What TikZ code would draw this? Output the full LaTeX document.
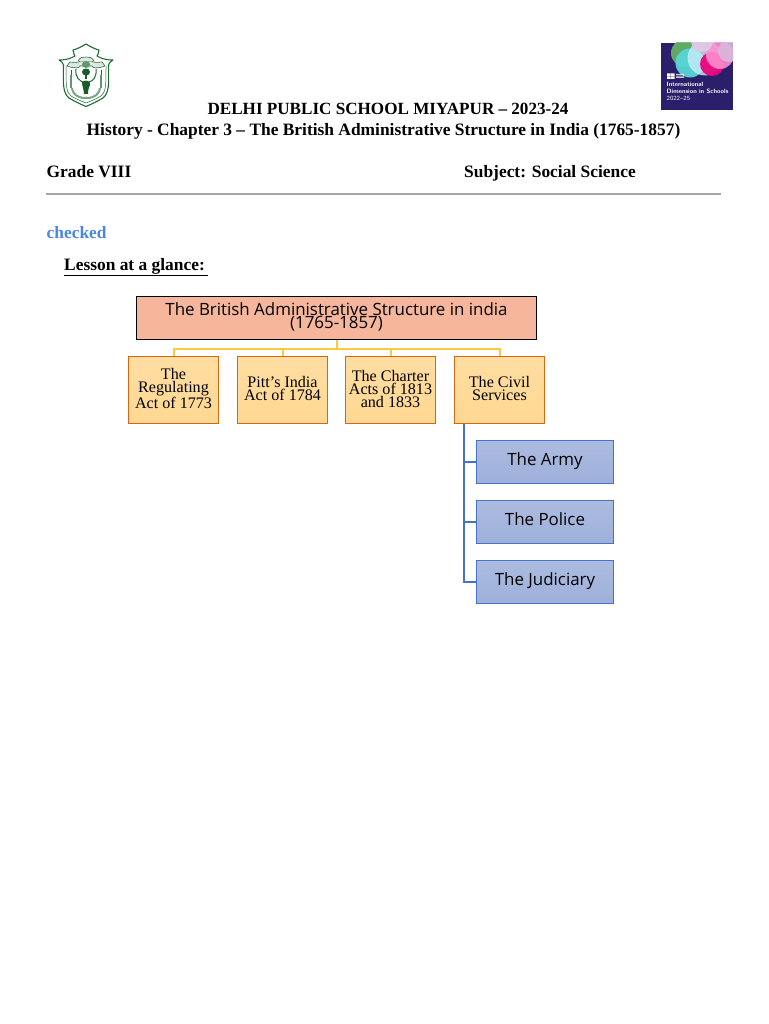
\documentclass[tikz,border=0pt]{standalone}
\usepackage{fontspec}
\setmainfont{Liberation Serif}
\newfontfamily\diag{Open Sans}
\usetikzlibrary{backgrounds}
\definecolor{navy}{HTML}{2B1F6B}
\definecolor{dgreen}{HTML}{1F6B32}
\definecolor{salmon}{HTML}{F5B69B}
\definecolor{peach}{HTML}{FFD892}
\definecolor{orangeedge}{HTML}{D9660F}
\definecolor{goldline}{HTML}{FFC83D}
\definecolor{blueedge}{HTML}{4472C4}
\definecolor{bluefill}{HTML}{A3B4DC}
\definecolor{linkblue}{HTML}{4A86E8}
\tikzset{
 x=1pt,y=-1pt,
 head/.style={font=\fontsize{17.4}{18}\selectfont\bfseries,inner sep=0pt,text=black},
 left text/.style={head,anchor=base west},
 topbox/.style={draw=black,line width=1pt,fill=salmon,minimum width=400pt,minimum height=43pt,inner sep=0pt,align=center,font=\diag\fontsize{16.9}{13}\selectfont,text=black,text depth=3.5pt},
 actbox/.style={draw=orangeedge,line width=1pt,top color=peach!85!white,bottom color=peach,minimum width=90.5pt,minimum height=67pt,inner sep=0pt,align=center,font=\fontsize{16.1}{13}\selectfont,text=black,text depth=2pt},
 armbox/.style={draw=blueedge,line width=1pt,top color=bluefill!90!white,bottom color=bluefill!95!blueedge,minimum width=136.5pt,minimum height=43pt,inner sep=0pt,align=center,font=\diag\fontsize{16.9}{18}\selectfont,text=black},
 goldlink/.style={draw=goldline,line width=2pt},
 bluelink/.style={draw=blueedge,line width=2pt},
 logoline/.style={draw=dgreen,line width=.7pt,line join=round},
}
\begin{document}
\begin{tikzpicture}
\useasboundingbox (0,0) rectangle (768,1024);
% school crest
\draw[logoline,line width=1.1pt,fill=white] (86,44) .. controls (81,47) and (77,49) .. (73,50) .. controls (74,54) and (74,55) .. (75,56) .. controls (70,59) and (65,60) .. (59,60) .. controls (62,62) and (63,63) .. (63.5,65) .. controls (63,85) and (63,93) .. (69,98) .. controls (74,101) and (80,104) .. (86,106.5) .. controls (92,104) and (98,101) .. (103,98) .. controls (109,93) and (109,85) .. (108.5,65) .. controls (109,63) and (110,62) .. (113,60) .. controls (107,60) and (102,59) .. (97,56) .. controls (98,55) and (98,54) .. (99,50) .. controls (95,49) and (91,47) .. (86,44) -- cycle;
\draw[logoline,line width=.5pt] (66,66) .. controls (66,85) and (66,92) .. (71,96) .. controls (76,99) and (81,101) .. (86,103) .. controls (91,101) and (96,99) .. (101,96) .. controls (106,92) and (106,85) .. (106,66);
% banner and arch
\draw[logoline,line width=.6pt,fill=dgreen!15!white] (67,66) -- (70,62) .. controls (76,63) and (80,62) .. (80,61) -- (92,61) .. controls (92,62) and (96,63) .. (102,62) -- (105,66) .. controls (97,69) and (92,68) .. (92,66) -- (80,66) .. controls (80,68) and (75,69) .. (67,66) -- cycle;
\draw[logoline,line width=.6pt,fill=dgreen!15!white] (78,61) .. controls (80,57) and (83,57) .. (86,57) .. controls (89,57) and (92,57) .. (94,61);
% arms, torch and hand
\draw[logoline,line width=1pt] (76,69) .. controls (75,77) and (79,81) .. (85,83);
\draw[logoline,line width=1pt] (96,69) .. controls (97,77) and (93,81) .. (89,82);
\fill[dgreen!85!black] (86,72) ellipse (4pt and 3.5pt);
\fill[dgreen!70!white] (86,64.5) ellipse (4pt and 3.5pt);
\draw[dgreen!85!black,line width=1.6pt] (86,74) -- (86,79);
\fill[dgreen!85!black] (82,82) .. controls (86,79) and (91,81) .. (90,85) .. controls (89,88) and (88,89) .. (88,94) -- (84,94) .. controls (84,90) and (82,86) .. (82,82) -- cycle;
% side tassels
\draw[dgreen!70!white,line width=2pt] (71,75) -- (71,88);
\draw[dgreen!70!white,line width=2pt] (101,75) -- (101,88);
\draw[logoline,line width=.6pt] (71,70) -- (71,75);
\draw[logoline,line width=.6pt] (101,70) -- (101,75);
% bottom scroll
\draw[dgreen!60!white,line width=2pt] (72,88) .. controls (73,95) and (78,97) .. (83,98) -- (89,98) .. controls (94,97) and (99,95) .. (100,88);
% ID logo
\fill[navy] (661,43) rectangle (733,110);
\begin{scope}
\clip (661,43) rectangle (733,110);
\fill[green!55!black!60!white,opacity=.9] (685,53) circle (14pt);
\fill[teal!50!cyan!65!white,opacity=.95] (690,63) circle (14.5pt);
\fill[cyan!22!white,opacity=.8] (705,58) circle (17.5pt);
\fill[magenta!85!red,opacity=.95] (712,64) circle (12pt);
\fill[pink!75!magenta,opacity=.88] (720,55) circle (14pt);
\fill[violet!22!white,opacity=.95] (702,41) circle (11pt);
\fill[violet!28!white,opacity=.9] (729,51) circle (11pt);
\end{scope}
\fill[white] (667,73.5) rectangle (670.5,76) (671,73.5) rectangle (674.5,76) (667,76.5) rectangle (670.5,79) (671,76.5) rectangle (674.5,79);
\fill[white,opacity=.75] (676,74) rectangle (684,75.3) (676,76.5) rectangle (684,77.8);
\node[anchor=west,inner sep=0pt,text=white,align=left,font=\sffamily\bfseries\fontsize{6.3}{6.7}\selectfont] (idtext) at (666.5,91.5) {International\\Dimension in Schools\\\mdseries 2022--25};
% headings
\node[head,font=\fontsize{17.1}{18}\selectfont\bfseries] (title) at (388,108.5) {DELHI PUBLIC SCHOOL MIYAPUR -- 2023-24};
\node[head] (chapter) at (383.5,131.5) {History - Chapter 3 -- The British Administrative Structure in India (1765-1857)};
\node[left text] (grade) at (46.5,178) {Grade VIII};
\node[left text] (subject) at (464,178) {Subject: Social Science};
\draw[draw=black!35,line width=2pt] (46,194.5) -- (721,194.5);
\node[left text,text=linkblue] (checked) at (46.5,238) {checked};
\node[left text] (lesson) at (64,270) {\underline{Lesson at a glance:\,}};
% chart
\node[topbox] (root) at (336.5,317.5) {The British Administrative Structure in india\\(1765-1857)};
\node[actbox] (a1) at (173.5,389.5) {The\\Regulating\\Act of 1773};
\node[actbox] (a2) at (282.5,389.5) {Pitt's India\\Act of 1784};
\node[actbox] (a3) at (390.5,389.5) {The Charter\\Acts of 1813\\and 1833};
\node[actbox] (a4) at (499.5,389.5) {The Civil\\Services};
\node[armbox] (b1) at (545,461.5) {The Army};
\node[armbox] (b2) at (545,521.5) {The Police\vphantom{y}};
\node[armbox] (b3) at (545,581.5) {The Judiciary};
\coordinate (bus) at (463.5,423);
\begin{scope}[on background layer]
\draw[goldlink] (root.south) -- ++(0,9.5) -| (a1.north);
\draw[goldlink] (root.south) -- ++(0,9.5) -| (a2.north);
\draw[goldlink] (root.south) -- ++(0,9.5) -| (a3.north);
\draw[goldlink] (root.south) -- ++(0,9.5) -| (a4.north);
\draw[bluelink] (bus) |- (b1.west);
\draw[bluelink] (bus) |- (b2.west);
\draw[bluelink] (bus) |- (b3.west);
\end{scope}
\end{tikzpicture}
\end{document}
